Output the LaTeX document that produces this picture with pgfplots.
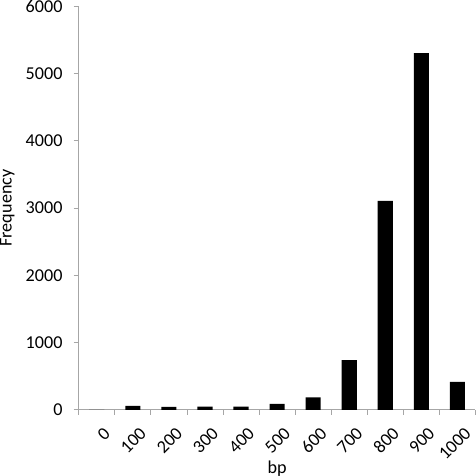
\documentclass[border=0pt]{standalone}
\usepackage{fontspec}
\setmainfont{Carlito}
\usepackage{pgfplots}
\pgfplotsset{compat=1.18}
\begin{document}
\begin{tikzpicture}
\begin{axis}[
  scale only axis,
  width=394pt, height=401pt,
  ybar, bar width=15pt,
  xmin=-0.5, xmax=10.5, ymin=0, ymax=6000,
  axis x line=bottom, axis y line=left,
  axis line style={-, draw=gray!70, line width=0.8pt},
  xtick={0,...,10},
  xticklabels={0,100,200,300,400,500,600,700,800,900,1000},
  major x tick style={draw=none},
  minor xtick={-0.5,0.5,...,10.5},
  minor tick length=5pt,
  minor x tick style={draw=gray!70, line width=0.8pt},
  ytick={0,1000,...,6000},
  major tick length=5pt,
  y tick style={draw=gray!70, line width=0.8pt},
  tick align=outside,
  /pgf/number format/assume math mode=true,
  /pgf/number format/1000 sep={},
  tick label style={font=\fontsize{18}{21}\selectfont},
  y tick label style={inner ysep=0pt, inner xsep=0pt, xshift=-11pt},
  x tick label style={rotate=45, anchor=north east, inner sep=0pt, yshift=-12pt, xshift=-3.5pt},
  xlabel={bp}, ylabel={Frequency},
  label style={font=\fontsize{18}{21}\selectfont, inner sep=0pt},
  xlabel style={at={(axis description cs:0.5,-0.1446)}, anchor=center},
  ylabel style={at={(axis description cs:-0.1802,0.5)}, anchor=center},
]
\addplot[fill=black, draw=none] coordinates {
(0,0) (1,60) (2,45) (3,50) (4,50) (5,90) (6,184) (7,738) (8,3108) (9,5304) (10,415)};
\end{axis}
\end{tikzpicture}
\end{document}
